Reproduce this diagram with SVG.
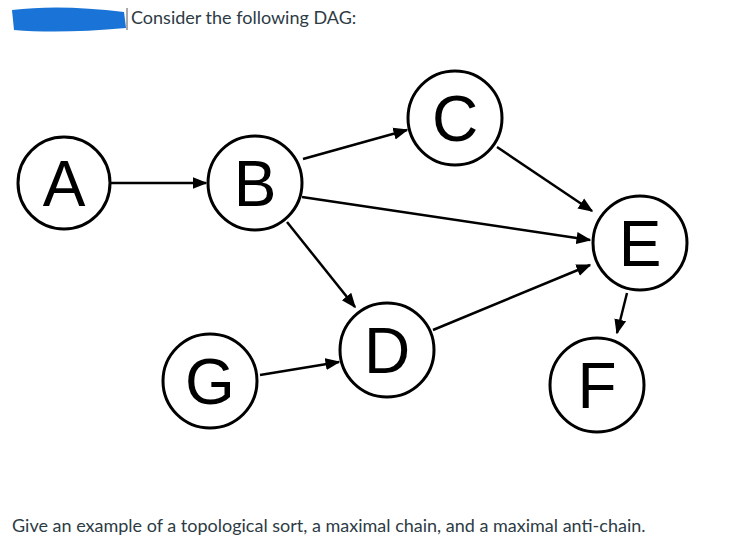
<svg xmlns="http://www.w3.org/2000/svg" width="755" height="556" viewBox="0 0 755 556">
<style>
.n circle{fill:#fff;stroke:#000;stroke-width:3}
.n text{font-family:"Liberation Sans",Arial,sans-serif;font-size:64px;text-anchor:middle;fill:#000}
.e line{stroke:#000;stroke-width:2.5;marker-end:url(#ah)}
.t{font-family:Lato,"Liberation Sans",sans-serif;font-size:18px;fill:#2d3b45}
</style>
<defs><marker id="ah" viewBox="0 0 10 10" refX="9" refY="5" markerWidth="6" markerHeight="6" orient="auto" markerUnits="strokeWidth"><path d="M0,1 L10,5 L0,9 z" fill="#000"/></marker></defs>
<rect width="755" height="556" fill="#fff"/>
<path d="M12,10 Q60,4 124,12 L126,28 Q60,34 14,30 z" fill="#1a73d6"/>
<line x1="127" y1="8" x2="127" y2="30" stroke="#555" stroke-width="1"/>
<text class="t" x="131" y="24">Consider the following DAG:</text>
<g class="e">
<line x1="110" y1="183" x2="206" y2="183"/>
<line x1="303" y1="159" x2="407" y2="130"/>
<line x1="497" y1="147" x2="592" y2="211"/>
<line x1="302" y1="197" x2="590" y2="240"/>
<line x1="287" y1="222" x2="355" y2="307"/>
<line x1="433" y1="330" x2="590" y2="265"/>
<line x1="260" y1="375" x2="339" y2="362"/>
<line x1="627" y1="293" x2="617" y2="333"/>
</g>
<g id="A" class="n"><circle cx="64" cy="183" r="46"/><text x="64" y="206">A</text></g>
<g id="B" class="n"><circle cx="255" cy="183" r="47"/><text x="255" y="206">B</text></g>
<g id="C" class="n"><circle cx="455" cy="118" r="47"/><text x="455" y="141">C</text></g>
<g id="E" class="n"><circle cx="640" cy="243" r="47"/><text x="640" y="266">E</text></g>
<g id="D" class="n"><circle cx="387" cy="350" r="47"/><text x="387" y="373">D</text></g>
<g id="G" class="n"><circle cx="210" cy="381" r="47"/><text x="210" y="404">G</text></g>
<g id="F" class="n"><circle cx="597" cy="385" r="47"/><text x="597" y="408">F</text></g>
<text class="t" x="12" y="532">Give an example of a topological sort, a maximal chain, and a maximal anti-chain.</text>
</svg>
